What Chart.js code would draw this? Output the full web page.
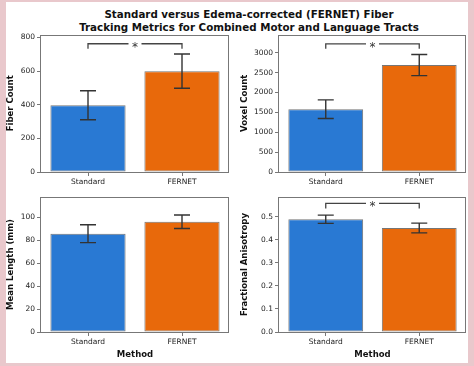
<!DOCTYPE html>
<html><head><meta charset="utf-8">
<script src="https://cdn.jsdelivr.net/npm/chart.js@4.4.1/dist/chart.umd.min.js"></script>
<style>
html,body{margin:0;padding:0;}
body{width:474px;height:366px;background:#e9c8cc;position:relative;overflow:hidden;}
#sheet{position:absolute;left:6px;top:2px;width:462px;height:361px;background:#fff;}
#title{position:absolute;left:0;width:498px;top:7.5px;text-align:center;font-family:'DejaVu Sans';font-weight:bold;font-size:10.3px;line-height:13px;color:#111;white-space:nowrap;}
canvas{position:absolute;}
</style></head><body>
<div id="sheet"></div>
<div id="title">Standard versus Edema-corrected (FERNET) Fiber<br>Tracking Metrics for Combined Motor and Language Tracts</div>
<canvas id="c1"></canvas><canvas id="c2"></canvas><canvas id="c3"></canvas><canvas id="c4"></canvas>
<script>
// ---- data ----
const categories = ['Standard', 'FERNET'];
const fiberCount = [397, 600];
const fiberCountErr = [86, 102];
const voxelCount = [1580, 2690];
const voxelCountErr = [235, 265];
const meanLength = [85.7, 96.1];
const meanLengthErr = [7.8, 5.9];
const fracAniso = [0.489, 0.451];
const fracAnisoErr = [0.018, 0.021];
const fiberTicks = [0, 200, 400, 600, 800];
const voxelTicks = [0, 500, 1000, 1500, 2000, 2500, 3000];
const lengthTicks = [0, 20, 40, 60, 80, 100];
const faTicks = [0.0, 0.1, 0.2, 0.3, 0.4, 0.5];
const yTitles = ['Fiber Count', 'Voxel Count', 'Mean Length (mm)', 'Fractional Anisotropy'];
const xTitle = 'Method';
const sigMark = '*';
// significance bracket levels (data units): [line level, leg bottom], null = none
const fiberSig = [763, 733];
const voxelSig = [3225, 3100];
const lengthSig = null;
const faSig = [0.558, 0.536];

// ---- styles / layout ----
const barColors = ['#2979d3', '#e8690b'];
const edgeColor = 'rgba(45,45,45,0.65)';
const frameColor = '#777';
const inkColor = '#333';
Chart.defaults.font.family = "'DejaVu Sans'";

const panels = [
  {id:'c1', x:0,   y:28,  w:237, h:172, l:41,  r:229, t:34,  b:172, max:818,   vals:fiberCount, errs:fiberCountErr, ticks:fiberTicks, yt:yTitles[0], tcx:11.2, xt:false, sig:fiberSig, dec:0},
  {id:'c2', x:237, y:28,  w:237, h:172, l:279, r:466, t:34,  b:172, max:3460,  vals:voxelCount, errs:voxelCountErr, ticks:voxelTicks, yt:yTitles[1], tcx:244.8, xt:false, sig:voxelSig, dec:0},
  {id:'c3', x:0,   y:190, w:237, h:176, l:41,  r:229, t:197, b:332, max:117.7, vals:meanLength, errs:meanLengthErr, ticks:lengthTicks, yt:yTitles[2], tcx:11.2, xt:true, sig:lengthSig, dec:0},
  {id:'c4', x:237, y:190, w:237, h:176, l:279, r:466, t:197, b:332, max:0.5854, vals:fracAniso, errs:fracAnisoErr, ticks:faTicks, yt:yTitles[3], tcx:244.8, xt:true, sig:faSig, dec:1}
];

const TITLE_FS = 8.5;
const TICK_FS = 7.5;

panels.forEach(p => {
  const cv = document.getElementById(p.id);
  cv.width = p.w; cv.height = p.h;
  cv.style.left = p.x + 'px'; cv.style.top = p.y + 'px';
  cv.style.width = p.w + 'px'; cv.style.height = p.h + 'px';
  const aL = p.l - p.x, aR = p.r - p.x, aT = p.t - p.y, aB = p.b - p.y;
  const lh = TITLE_FS * 1.2;
  const yW = aL;
  const xH = p.xt ? 30 : 20;
  const padBottom = p.h - aB - xH;
  const titlePadTop = (p.tcx - p.x) - lh / 2;

  const overlay = {
    id: 'overlay' + p.id,
    afterDatasetsDraw(chart) {
      const {ctx, scales} = chart;
      const xs = scales.x, ys = scales.y;
      ctx.save();
      // error bars
      ctx.strokeStyle = inkColor; ctx.lineWidth = 1.4;
      p.vals.forEach((v, i) => {
        const cx = xs.getPixelForValue(i);
        const yTop = ys.getPixelForValue(v + p.errs[i]);
        const yBot = ys.getPixelForValue(v - p.errs[i]);
        ctx.beginPath();
        ctx.moveTo(cx, yTop); ctx.lineTo(cx, yBot);
        ctx.moveTo(cx - 8, yTop); ctx.lineTo(cx + 8, yTop);
        ctx.moveTo(cx - 8, yBot); ctx.lineTo(cx + 8, yBot);
        ctx.stroke();
      });
      // significance bracket
      if (p.sig) {
        const x0 = xs.getPixelForValue(0), x1 = xs.getPixelForValue(1);
        const ly = ys.getPixelForValue(p.sig[0]);
        const leg = ys.getPixelForValue(p.sig[1]);
        const mid = (x0 + x1) / 2;
        ctx.strokeStyle = '#444'; ctx.lineWidth = 1.3;
        ctx.beginPath();
        ctx.moveTo(x0, leg); ctx.lineTo(x0, ly); ctx.lineTo(mid - 6.5, ly);
        ctx.moveTo(mid + 6.5, ly); ctx.lineTo(x1, ly); ctx.lineTo(x1, leg);
        ctx.stroke();
        ctx.fillStyle = '#333';
        ctx.font = "12px 'DejaVu Sans'";
        ctx.textAlign = 'center'; ctx.textBaseline = 'alphabetic';
        ctx.fillText(sigMark, mid, ly + 7);
      }
      // frame
      const a = chart.chartArea;
      ctx.strokeStyle = frameColor; ctx.lineWidth = 1;
      ctx.strokeRect(Math.round(a.left) - 0.5, Math.round(a.top) + 0.5, Math.round(a.right) - Math.round(a.left), Math.round(a.bottom) - Math.round(a.top));
      ctx.restore();
    }
  };

  new Chart(cv, {
    type: 'bar',
    data: {
      labels: categories,
      datasets: [{
        data: p.vals,
        backgroundColor: barColors,
        borderColor: edgeColor,
        borderWidth: 1,
        borderSkipped: false,
        barPercentage: 0.8,
        categoryPercentage: 1.0
      }]
    },
    options: {
      responsive: false,
      animation: false,
      devicePixelRatio: 1,
      layout: { padding: { left: 0, right: p.w - aR, top: aT, bottom: padBottom } },
      plugins: { legend: { display: false }, tooltip: { enabled: false } },
      scales: {
        x: {
          type: 'category',
          offset: true,
          grid: { offset: false, drawOnChartArea: false, drawTicks: true, tickLength: 4, color: frameColor },
          border: { display: false },
          ticks: { color: '#222', font: { size: TICK_FS }, padding: 2, maxRotation: 0 },
          title: { display: p.xt, text: xTitle, color: '#111', font: { size: TITLE_FS, weight: 'bold' }, padding: { top: 0, bottom: 2.4 } },
          afterFit(ax) { ax.height = xH; }
        },
        y: {
          min: 0, max: p.max,
          grid: { drawOnChartArea: false, drawTicks: true, tickLength: 4, color: frameColor },
          border: { display: false },
          ticks: { color: '#222', font: { size: TICK_FS }, padding: 2,
                   callback: v => Number(v).toFixed(p.dec) },
          afterBuildTicks(ax) { ax.ticks = p.ticks.map(v => ({ value: v })); },
          title: { display: true, text: p.yt, color: '#111', font: { size: TITLE_FS, weight: 'bold' }, padding: { top: titlePadTop, bottom: 0 } },
          afterFit(ax) { ax.width = yW; }
        }
      }
    },
    plugins: [overlay]
  });
});
</script>
</body></html>
